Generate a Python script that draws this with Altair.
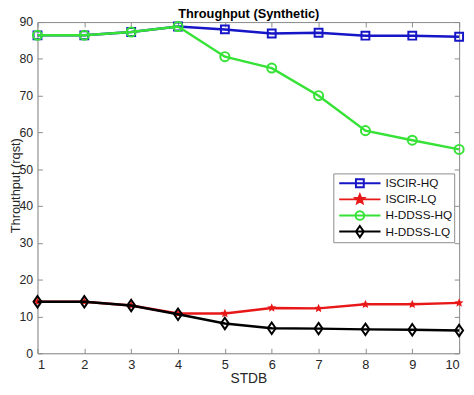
import math
import altair as alt
import pandas as pd

# ---- data ----
stdb = [1, 2, 3, 4, 5, 6, 7, 8, 9, 10]
series_names = ["ISCIR-HQ", "ISCIR-LQ", "H-DDSS-HQ", "H-DDSS-LQ"]
iscir_hq = [86.4, 86.4, 87.3, 88.8, 88.0, 86.9, 87.1, 86.3, 86.3, 86.0]
iscir_lq = [14.0, 14.0, 13.0, 10.8, 10.8, 12.3, 12.2, 13.3, 13.3, 13.7]
hddss_hq = [86.4, 86.4, 87.3, 88.8, 80.6, 77.5, 70.0, 60.5, 57.9, 55.4]
hddss_lq = [14.0, 14.0, 13.0, 10.6, 8.1, 6.8, 6.7, 6.5, 6.4, 6.2]
y_ticks = [0, 10, 20, 30, 40, 50, 60, 70, 80, 90]
chart_title = "Throughput (Synthetic)"

# ---- style ----
colors = ["#1616c6", "#e81818", "#36e236", "#000000"]
fills = ["transparent", "#e81818", "transparent", "transparent"]
FONT = "Liberation Sans"
GREY = "#8c8c8c"
W, H = 429, 337


def star(R):
    pts = []
    for i in range(10):
        r = R if i % 2 == 0 else R * 0.45
        a = math.radians(-90 + 36 * i)
        pts.append((r * math.cos(a), r * math.sin(a)))
    return "M" + "L".join(f"{px:.3f},{py:.3f}" for px, py in pts) + "Z"


def circle(r):
    return f"M{-r},0A{r},{r},0,1,0,{r},0A{r},{r},0,1,0,{-r},0Z"


def square(h):
    return f"M{-h},{-h}L{h},{-h}L{h},{h}L{-h},{h}Z"


def diamond(w, h):
    return f"M0,{-h}L{w},0L0,{h}L{-w},0Z"


plot_shapes = ["square", star(1.0), "circle", diamond(0.9, 1.3)]
plot_sizes = [64, 90, 85, 80]
LINE = "M-1,0L1,0"
legend_shapes = [LINE + square(0.19), LINE + star(0.23), LINE + circle(0.21),
                 LINE + diamond(0.19, 0.27)]

rows = []
for name, vals in zip(series_names, [iscir_hq, iscir_lq, hddss_hq, hddss_lq]):
    for x, y in zip(stdb, vals):
        rows.append({"series": name, "stdb": x, "thr": y})
df = pd.DataFrame(rows)

xs = alt.Scale(domain=[1, 10], nice=False, zero=False)
ys = alt.Scale(domain=[0, 90], nice=False, zero=False)
base = alt.Chart(df)

common_axis = dict(grid=False, labelFont=FONT, titleFont=FONT)

# main axes: labels + titles, no ticks
ax_x_main = alt.Axis(orient="bottom", values=stdb, ticks=False, tickSize=0, domain=True,
                     domainColor=GREY, labelFontSize=13, labelColor="#262626", labelPadding=5,
                     title="STDB", titleFontSize=14, titleFontWeight="normal",
                     titleColor="#262626", titleBaseline="alphabetic", titleY=30, **common_axis)
ax_y_main = alt.Axis(orient="left", values=y_ticks, ticks=False, tickSize=0, domain=True,
                     domainColor=GREY, labelFontSize=12.5, labelColor="#262626", labelPadding=5,
                     title="Throuthput (rqst)", titleFontSize=13, titleFontWeight="normal",
                     titleColor="#262626", titleAngle=270, titleBaseline="alphabetic",
                     titleAlign="center", titleX=-18.5, titleY=166, **common_axis)
# inward ticks at left and bottom
ax_y_inleft = alt.Axis(orient="right", offset=-W, values=y_ticks, labels=False, domain=False,
                       ticks=True, tickSize=5, tickColor=GREY, title=None, **common_axis)
ax_x_inbottom = alt.Axis(orient="top", offset=-H, values=stdb, labels=False, domain=False,
                         ticks=True, tickSize=5, tickColor=GREY, title=None, **common_axis)
# right and top box edges with inward ticks
ax_y_right = alt.Axis(orient="left", offset=-W, values=y_ticks, labels=False, domain=True,
                      domainColor=GREY, ticks=True, tickSize=5, tickColor=GREY, title=None,
                      **common_axis)
ax_x_top = alt.Axis(orient="bottom", offset=-H, values=stdb, labels=False, domain=True,
                    domainColor=GREY, ticks=True, tickSize=5, tickColor=GREY, title=None,
                    **common_axis)
# chart title carried by a bare top axis
ax_x_title = alt.Axis(orient="top", labels=False, ticks=False, domain=False,
                      title=chart_title, titleFontSize=13, titleFontWeight="bold",
                      titleColor="#000000", titleBaseline="alphabetic", titleY=-5,
                      titleAlign="center", titleX=W / 2, **common_axis)
ax_y_none = alt.Axis(orient="right", labels=False, ticks=False, domain=False, title=None,
                     **common_axis)

layers = []
for axx, axy in [(ax_x_main, ax_y_main), (ax_x_inbottom, ax_y_inleft), (ax_x_top, ax_y_right),
                 (ax_x_title, ax_y_none)]:
    layers.append(base.mark_point(opacity=0).encode(
        x=alt.X("stdb:Q", scale=xs, axis=axx),
        y=alt.Y("thr:Q", scale=ys, axis=axy),
    ))

for name, c, shp, sz in zip(series_names, colors, plot_shapes, plot_sizes):
    sub = base.transform_filter(alt.datum.series == name)
    enc = dict(x=alt.X("stdb:Q", scale=xs, axis=None), y=alt.Y("thr:Q", scale=ys, axis=None))
    layers.append(sub.mark_line(color=c, strokeWidth=2.5).encode(**enc))
    layers.append(sub.mark_point(shape=shp, size=sz, color=c, strokeWidth=2,
                                 filled=(name == "ISCIR-LQ"), opacity=1).encode(**enc))

# legend layer (invisible marks, visible legend)
legend = alt.Legend(
    title=None, orient="none", legendX=301, legendY=154, padding=2,
    fillColor="white", strokeColor=GREY, symbolSize=1764, symbolStrokeWidth=2,
    symbolOffset=3, labelOffset=4, labelFontSize=12, labelFont=FONT, labelColor="#111111",
    clipHeight=16, rowPadding=0.4, symbolFillColor="transparent", symbolOpacity=1,
)
layers.append(base.mark_point(opacity=0, filled=False).encode(
    x=alt.X("stdb:Q", scale=xs, axis=None),
    y=alt.Y("thr:Q", scale=ys, axis=None),
    color=alt.Color("series:N", scale=alt.Scale(domain=series_names, range=colors), legend=legend),
    fill=alt.Fill("series:N", scale=alt.Scale(domain=series_names, range=fills), legend=legend),
    shape=alt.Shape("series:N", scale=alt.Scale(domain=series_names, range=legend_shapes),
                    legend=legend),
))

chart = alt.layer(*layers).resolve_axis(x="independent", y="independent").properties(
    width=W, height=H,
    autosize=alt.AutoSizeParams(type="none"),
    padding={"left": 30, "top": 11, "right": 7, "bottom": 31},
).configure_view(stroke=None).configure(background="white")

chart.save("out.html", embed_options={"renderer": "svg", "actions": False})
